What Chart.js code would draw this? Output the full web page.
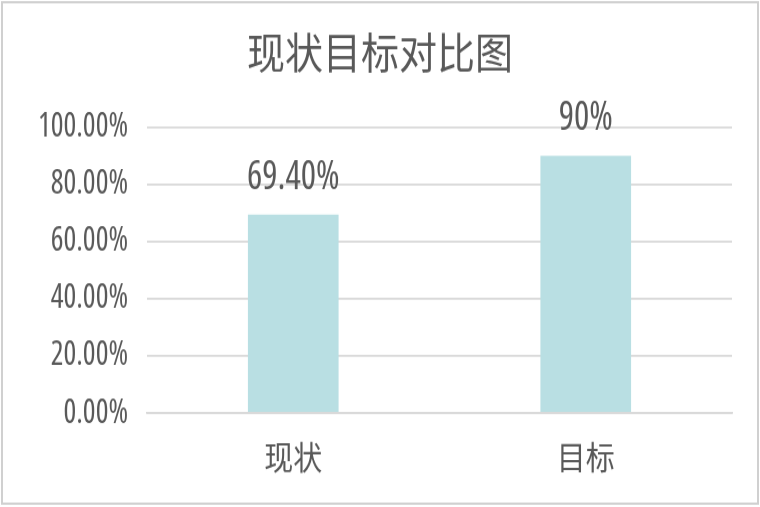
<!DOCTYPE html>
<html>
<head>
<meta charset="utf-8">
<script src="https://cdn.jsdelivr.net/npm/chart.js@4/dist/chart.umd.min.js"></script>
<style>
  html, body { margin: 0; padding: 0; background: #fff; width: 760px; height: 507px; overflow: hidden; }
  #wrap { width: 760px; height: 453px; transform: scaleY(1.1192); transform-origin: 0 0; }
</style>
</head>
<body>
<div id="wrap"><canvas id="c" width="760" height="453"></canvas></div>
<script>
// --- datos ---
const categories = ['现状', '目标'];
const values = [69.4, 90];
const valueLabels = ['69.40%', '90%'];
const yTicks = [0, 20, 40, 60, 80, 100];

// la imagen original esta algo estirada en vertical: dibujamos en 760x453 y escalamos con CSS
const CJK = '"Noto Sans CJK SC", sans-serif';
const NUM = '"Open Sans", "Noto Sans CJK SC", sans-serif';
const GREY = '#595959';

// etiquetas encima de las barras
const barLabels = {
    id: 'barLabels',
    afterDatasetsDraw(chart) {
        const ctx = chart.ctx;
        const meta = chart.getDatasetMeta(0);
        ctx.save();
        ctx.font = 'condensed 36px ' + NUM;
        ctx.fillStyle = GREY;
        ctx.textAlign = 'center';
        ctx.textBaseline = 'middle';
        meta.data.forEach((bar, i) => {
            ctx.fillText(valueLabels[i], bar.x, bar.y - 33);
        });
        ctx.restore();
    }
};

// marco gris alrededor
const frame = {
    id: 'frame',
    beforeDraw(chart) {
        const ctx = chart.ctx;
        ctx.save();
        ctx.fillStyle = '#fff';
        ctx.fillRect(0, 0, chart.width, chart.height);
        ctx.strokeStyle = '#d0d0d0';
        ctx.lineWidth = 2;
        ctx.strokeRect(2, 2, chart.width - 4, chart.height - 5);
        ctx.restore();
    }
};

new Chart(document.getElementById('c'), {
    type: 'bar',
    data: {
        labels: categories,
        datasets: [{
            data: values,
            backgroundColor: '#b9dfe3',
            categoryPercentage: 0.62,
            barPercentage: 0.5
        }]
    },
    options: {
        responsive: false,
        animation: false,
        layout: { padding: 0 },
        plugins: {
            legend: { display: false },
            tooltip: { enabled: false },
            title: {
                display: true,
                text: '现状目标对比图',
                color: GREY,
                font: { family: CJK, size: 38, weight: 'normal' },
                padding: { top: 24, bottom: 44 }
            }
        },
        scales: {
            x: {
                grid: { display: false, drawTicks: false },
                border: { color: '#d9d9d9', width: 1.8 },
                ticks: {
                    color: GREY,
                    font: { family: CJK, size: 29 },
                    padding: 23
                },
                afterFit(scale) { scale.height = 84; }
            },
            y: {
                min: 0,
                max: 100,
                afterBuildTicks(scale) { scale.ticks = yTicks.map(v => ({ value: v })); },
                grid: { color: '#d9d9d9', lineWidth: 1.8, drawTicks: false },
                border: { display: false },
                ticks: {
                    color: GREY,
                    font: { family: NUM, size: 30, weight: 'condensed' },
                    padding: 19,
                    callback: v => v.toFixed(2) + '%'
                },
                afterFit(scale) { scale.width = 147; }
            },
            // eje vacío para dejar el margen derecho sin mover el título
            y2: {
                position: 'right',
                grid: { display: false },
                border: { display: false },
                ticks: { display: false },
                afterFit(scale) { scale.width = 28; }
            }
        }
    },
    plugins: [frame, barLabels]
});
</script>
</body>
</html>
